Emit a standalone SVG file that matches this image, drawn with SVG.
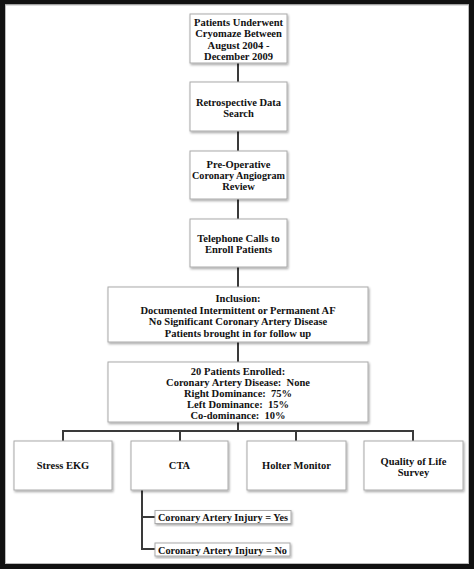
<svg xmlns="http://www.w3.org/2000/svg" width="474" height="569" viewBox="0 0 474 569">
<defs>
<filter id="sh" x="-10%" y="-10%" width="130%" height="130%">
<feDropShadow dx="1" dy="1.5" stdDeviation="1" flood-color="#000" flood-opacity="0.35"/>
</filter>
<style>
.box{fill:#fff;stroke:#aaa;stroke-width:1;filter:url(#sh);}
.t{font-family:"Liberation Serif","Times New Roman",serif;font-weight:bold;font-size:10.5px;fill:#111;text-anchor:middle;white-space:pre;}
.tl{font-family:"Liberation Serif","Times New Roman",serif;font-weight:bold;font-size:10px;fill:#111;}
.c{fill:none;stroke:#3a3a3a;stroke-width:2;}
</style>
</defs>
<rect x="0" y="0" width="474" height="569" fill="#fff"/>
<rect x="2.5" y="2" width="469" height="564.5" fill="none" stroke="#111" stroke-width="5"/>
<rect x="5.5" y="5" width="463" height="558.5" fill="none" stroke="#bbb" stroke-width="1"/>
<g id="connectors">
<path class="c" d="M238 63V82M238 131V151M238 199V219M238 267V287M238 342V362M238 422V431"/>
<path class="c" d="M63 441V431H413V441M180 431V441M296 431V441"/>
<path class="c" d="M142 490V549H155M142 517H155"/>
</g>
<g id="n1"><rect class="box" x="190" y="14" width="97" height="49"/>
<text class="t" x="238.5" y="26">Patients Underwent</text>
<text class="t" x="238.5" y="37">Cryomaze Between</text>
<text class="t" x="238.5" y="48.5">August 2004 -</text>
<text class="t" x="238.5" y="59.5">December 2009</text></g>
<g id="n2"><rect class="box" x="190" y="82" width="97" height="49"/>
<text class="t" x="238.5" y="106">Retrospective Data</text>
<text class="t" x="238.5" y="117">Search</text></g>
<g id="n3"><rect class="box" x="190" y="151" width="97" height="48"/>
<text class="t" x="238.5" y="168">Pre-Operative</text>
<text class="t" x="238.5" y="179" textLength="93" lengthAdjust="spacingAndGlyphs">Coronary Angiogram</text>
<text class="t" x="238.5" y="190">Review</text></g>
<g id="n4"><rect class="box" x="190" y="219" width="97" height="48"/>
<text class="t" x="238.5" y="242">Telephone Calls to</text>
<text class="t" x="238.5" y="253">Enroll Patients</text></g>
<g id="n5"><rect class="box" x="108" y="287" width="260" height="55"/>
<text class="t" x="238" y="302">Inclusion:</text>
<text class="t" x="238" y="313.5">Documented Intermittent or Permanent AF</text>
<text class="t" x="238" y="325">No Significant Coronary Artery Disease</text>
<text class="t" x="238" y="336.5">Patients brought in for follow up</text></g>
<g id="n6"><rect class="box" x="108" y="362" width="260" height="60"/>
<text class="t" x="238" y="375">20 Patients Enrolled:</text>
<text class="t" x="238" y="386">Coronary Artery Disease:  None</text>
<text class="t" x="238" y="397">Right Dominance:  75%</text>
<text class="t" x="238" y="408">Left Dominance:  15%</text>
<text class="t" x="238" y="419">Co-dominance:  10%</text></g>
<g id="n7"><rect class="box" x="14" y="441" width="98" height="49"/>
<text class="t" x="63" y="469">Stress EKG</text></g>
<g id="n8"><rect class="box" x="131" y="441" width="97" height="49"/>
<text class="t" x="179.5" y="469">CTA</text></g>
<g id="n9"><rect class="box" x="247" y="441" width="99" height="49"/>
<text class="t" x="296.5" y="469">Holter Monitor</text></g>
<g id="n10"><rect class="box" x="364" y="441" width="99" height="49"/>
<text class="t" x="413.5" y="464.5">Quality of Life</text>
<text class="t" x="413.5" y="475.5">Survey</text></g>
<g id="n11"><rect class="box" x="155" y="510.5" width="136" height="13"/>
<text class="tl" x="158" y="521" textLength="130" lengthAdjust="spacingAndGlyphs">Coronary Artery Injury = Yes</text></g>
<g id="n12"><rect class="box" x="155" y="543" width="135" height="13"/>
<text class="tl" x="158" y="553.5" textLength="129" lengthAdjust="spacingAndGlyphs">Coronary Artery Injury = No</text></g>
</svg>
